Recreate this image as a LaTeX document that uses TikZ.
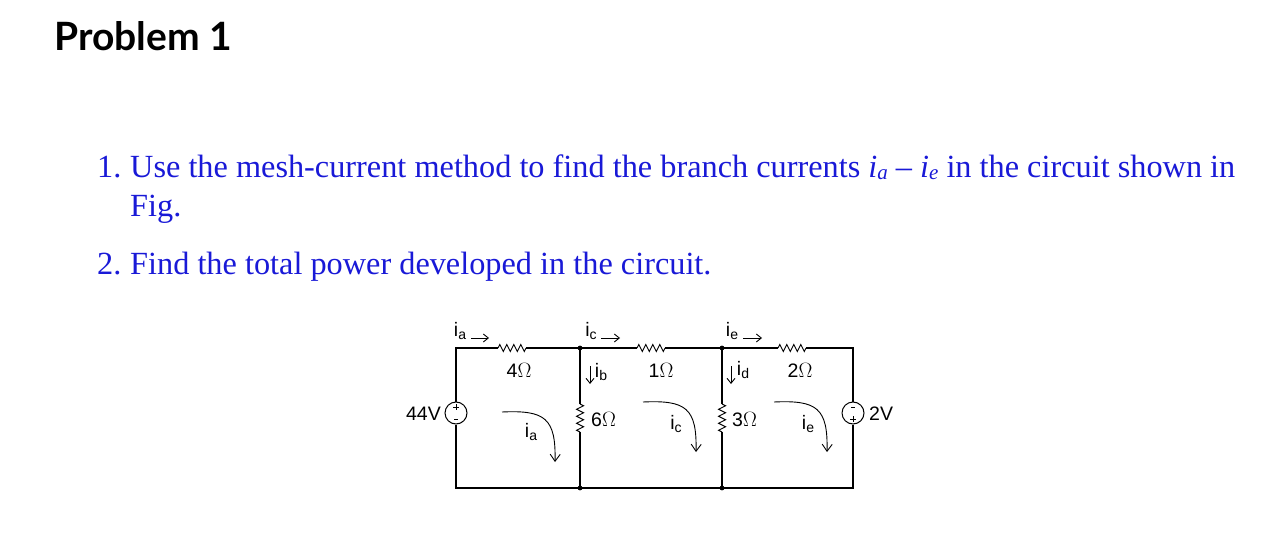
\documentclass[tikz,border=0pt]{standalone}
\usepackage{fontspec}
\newfontfamily\titlefont{Lato}
\newfontfamily\lab{Liberation Sans}
\setmainfont{Liberation Serif}
\usetikzlibrary{decorations.pathmorphing,arrows.meta}
\definecolor{txtblue}{RGB}{25,25,215}
\newcommand{\cur}[1]{i{\fontsize{14}{14}\selectfont\raisebox{-0.35ex}{#1}}}
\newcommand{\mi}[1]{\textit{i}{\fontsize{21}{21}\selectfont\raisebox{-0.3ex}{\textit{#1}}}}
\begin{document}
\begin{tikzpicture}[x=1pt,y=-1pt,
  wire/.style={line width=1.1pt},
  res/.style={line width=0.9pt,decorate,decoration={zigzag,segment length=7,amplitude=3.5}},
  lbl/.style={font=\lab\fontsize{19.5}{19.5}\selectfont,inner sep=0pt},
  body/.style={font=\fontsize{32.3}{33}\selectfont,text=txtblue,anchor=base west,inner sep=0pt},
  mesh/.style={line width=0.9pt,-{Straight Barb[length=7pt,width=10pt]}},
  dot/.style={circle,fill,inner sep=1.7pt},
  sg/.style={line width=0.8pt},
  carr/.style={line width=0.9pt,-{Straight Barb[length=5pt,width=8pt]}}]
\useasboundingbox (0,0) rectangle (1284,559);
\node[font=\titlefont\bfseries\fontsize{39}{39}\selectfont,anchor=base west,inner sep=0pt] (title) at (54,51) {Problem 1};
\node[body] (n1) at (97,177) {1.};
\node[body] (t1) at (130,177) {Use the mesh-current method to find the branch currents \mi{a} -- \mi{e} in the circuit shown in};
\node[body] (t1b) at (130,216) {Fig.};
\node[body] (n2) at (97,274) {2.};
\node[body] (t2) at (130,274) {Find the total power developed in the circuit.};
% nodes
\coordinate (tl) at (456,348); \coordinate (bl) at (456,488);
\coordinate (tm1) at (580,348); \coordinate (bm1) at (580,488);
\coordinate (tm2) at (722,348); \coordinate (bm2) at (722,488);
\coordinate (tr) at (853,348); \coordinate (br) at (853,488);
\node[circle,draw,line width=1pt,minimum size=22pt,inner sep=0pt] (s1) at (456,413) {};
\node[circle,draw,line width=1pt,minimum size=22pt,inner sep=0pt] (s2) at (853,413) {};
\draw[sg] (453,407) -- (459,407) (456,404) -- (456,410) (454,419) -- (458,419);
\draw[sg] (850,419) -- (856,419) (853,416) -- (853,422) (851,407) -- (855,407);
% wires
\draw[wire] (s1) -- (tl) -- (498,348);
\draw[res] (498,348) -- (526,348);
\draw[wire] (526,348) -- (tm1) -- (637,348);
\draw[res] (637,348) -- (665,348);
\draw[wire] (665,348) -- (tm2) -- (778,348);
\draw[res] (778,348) -- (806,348);
\draw[wire] (806,348) -- (tr) -- (s2) -- (br) -- (bl) -- (s1);
\draw[wire] (tm1) -- (580,404); \draw[res] (580,404) -- (580,432); \draw[wire] (580,432) -- (bm1);
\draw[wire] (tm2) -- (722,404); \draw[res] (722,404) -- (722,432); \draw[wire] (722,432) -- (bm2);
\foreach \p in {tm1,bm1,tm2,bm2} \node[dot] at (\p) {};
% labels
\node[lbl] at (519,370) {4$\Omega$};
\node[lbl] at (661,370) {1$\Omega$};
\node[lbl] at (800,370) {2$\Omega$};
\node[lbl,anchor=west] at (591,420) {6$\Omega$};
\node[lbl,anchor=west] at (732,420) {3$\Omega$};
\node[lbl,anchor=east] at (441,414) {44V};
\node[lbl,anchor=west] at (869,414) {2V};
\node[lbl] at (460,331) {\cur{a}};
\node[lbl] at (591,331) {\cur{c}};
\node[lbl] at (732,331) {\cur{e}};
\draw[carr] (471,338) -- (489,338);
\draw[carr] (601,338) -- (620,338);
\draw[carr] (743,338) -- (762,338);
\draw[carr] (590,366) -- (590,384);
\draw[carr] (731,366) -- (731,384);
\node[lbl] at (601,372) {\cur{b}};
\node[lbl] at (743,370) {\cur{d}};
% mesh arrows
\draw[mesh] (502,412) .. controls (545,410) and (556,418) .. (555,462);
\draw[mesh] (643,402) .. controls (686,400) and (697,408) .. (696,452);
\draw[mesh] (774,402) .. controls (817,400) and (828,408) .. (827,452);
\node[lbl] at (531,432) {\cur{a}};
\node[lbl] at (676,424) {\cur{c}};
\node[lbl] at (808,424) {\cur{e}};
\end{tikzpicture}
\end{document}
